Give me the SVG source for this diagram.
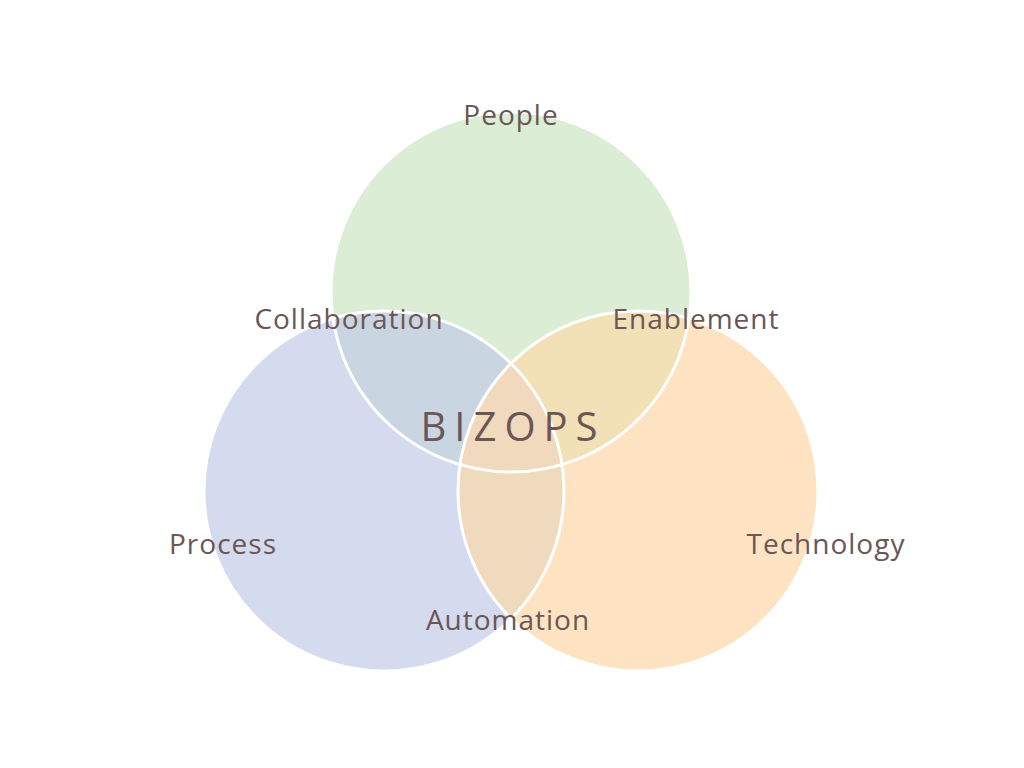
<svg xmlns="http://www.w3.org/2000/svg" width="1024" height="768" viewBox="0 0 1024 768">
<defs>
<clipPath id="cT"><circle cx="511" cy="292" r="180"/></clipPath>
<clipPath id="cL"><circle cx="384" cy="491" r="180"/></clipPath>
<clipPath id="cR"><circle cx="638" cy="491" r="180"/></clipPath>
</defs>
<style>
text{font-family:"Open Sans","Liberation Sans",sans-serif;fill:#6B5656;text-anchor:middle;letter-spacing:1px;font-size:28px}
.ring{fill:none;stroke:#fff;stroke-width:3}
</style>
<rect width="1024" height="768" fill="#fff"/>
<g id="people"><circle cx="511" cy="292" r="180" fill="#DCEDD5"/></g>
<g id="process"><circle cx="384" cy="491" r="180" fill="#D5DBEE"/></g>
<g id="technology"><circle cx="638" cy="491" r="180" fill="#FDE3C2"/></g>
<g id="overlaps">
<g clip-path="url(#cT)"><circle cx="384" cy="491" r="180" fill="#C9D6E1"/><circle cx="638" cy="491" r="180" fill="#F2E0B6"/></g>
<g clip-path="url(#cL)"><circle cx="638" cy="491" r="180" fill="#F0DABE"/></g>
<g clip-path="url(#cT)"><g clip-path="url(#cL)"><circle cx="638" cy="491" r="180" fill="#F0D9BC"/></g></g>
</g>
<g id="connectors">
<circle class="ring" cx="511" cy="292" r="180"/>
<circle class="ring" cx="384" cy="491" r="180"/>
<circle class="ring" cx="638" cy="491" r="180"/>
</g>
<g id="labels">
<text x="511" y="125">People</text>
<text x="349" y="329">Collaboration</text>
<text x="696" y="329">Enablement</text>
<text x="513" y="441" font-size="40" letter-spacing="8" style="font-size:40px;letter-spacing:8px">BIZOPS</text>
<text x="223" y="554">Process</text>
<text x="826" y="554">Technology</text>
<text x="508" y="630">Automation</text>
</g>
</svg>
